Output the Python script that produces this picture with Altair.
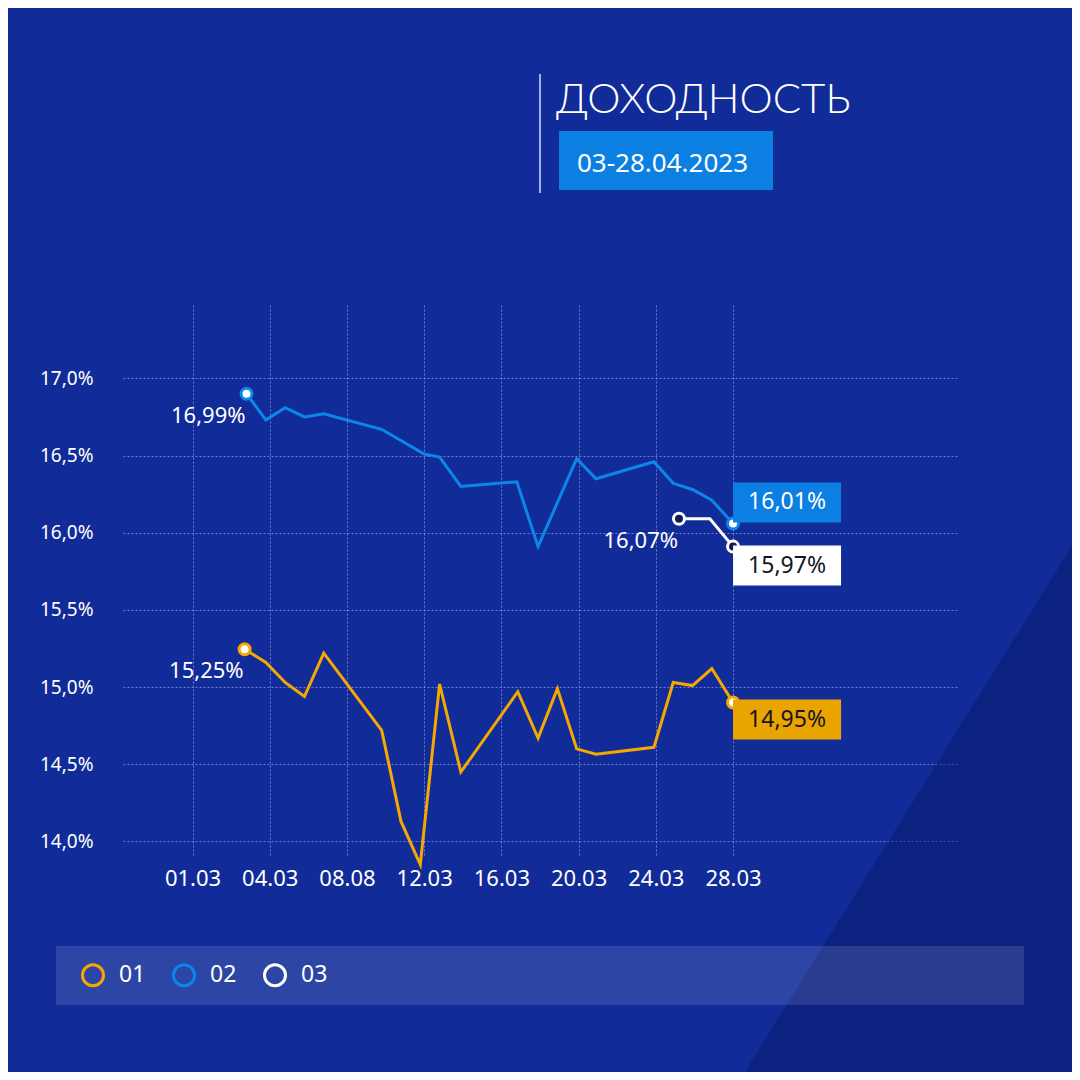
import altair as alt
import pandas as pd

FONT = "Noto Sans"

# ---- data ----
x_ticks = [0, 4, 8, 12, 16, 20, 24, 28]
x_labels = ["01.03", "04.03", "08.08", "12.03", "16.03", "20.03", "24.03", "28.03"]
y_ticks = [14.0, 14.5, 15.0, 15.5, 16.0, 16.5, 17.0]

series_names = ["01", "02", "03"]

orange_x = [2.7, 3.8, 4.8, 5.8, 6.8, 9.8, 10.8, 11.8, 12.8, 13.9, 16.85, 17.9, 18.9, 19.9, 20.9, 23.9, 24.9, 25.9, 26.9, 28.0]
orange_y = [15.245, 15.16, 15.03, 14.94, 15.22, 14.72, 14.13, 13.85, 15.02, 14.45, 14.97, 14.67, 14.99, 14.60, 14.565, 14.61, 15.03, 15.01, 15.12, 14.90]

blue_x = [2.8, 3.8, 4.8, 5.8, 6.8, 9.8, 12.0, 12.8, 13.9, 16.8, 17.9, 19.9, 20.9, 23.9, 24.9, 25.9, 26.9, 28.0]
blue_y = [16.90, 16.73, 16.81, 16.75, 16.77, 16.67, 16.51, 16.49, 16.30, 16.33, 15.91, 16.48, 16.35, 16.46, 16.32, 16.28, 16.21, 16.06]

white_x = [25.2, 26.8, 28.0]
white_y = [16.09, 16.09, 15.91]

start_labels = ["15,25%", "16,99%", "16,07%"]
end_labels = ["14,95%", "16,01%", "15,97%"]

title_text = "ДОХОДНОСТЬ"
period_text = "03-28.04.2023"

# ---- styles ----
ORANGE = "#f5a800"
BLUE = "#0d86ea"
WHITE = "#ffffff"
BG = "#112c98"
colors = [ORANGE, BLUE, WHITE]

rows = []
for name, xs, ys in zip(series_names, [orange_x, blue_x, white_x], [orange_y, blue_y, white_y]):
    for i, (a, b) in enumerate(zip(xs, ys)):
        rows.append({"series": name, "d": a, "v": b, "i": i})
df = pd.DataFrame(rows)

starts = []
ends = []
for name, xs, ys, sl, el in zip(series_names, [orange_x, blue_x, white_x], [orange_y, blue_y, white_y], start_labels, end_labels):
    starts.append({"series": name, "d": xs[0], "v": ys[0], "label": sl})
    ends.append({"series": name, "d": xs[-1], "v": ys[-1], "label": el})
df_start = pd.DataFrame(starts)
df_end = pd.DataFrame(ends)
df_pts = pd.concat([df_start, df_end])

label_js = "[" + ",".join("'%s'" % s for s in x_labels) + "]"

X = alt.X(
    "d:Q",
    scale=alt.Scale(domain=[-3.6, 39.6], nice=False, zero=False),
    axis=alt.Axis(
        values=x_ticks, labelExpr=label_js + "[round(datum.value/4)]", title=None,
        domain=False, ticks=False, grid=True, gridColor="#a8b8ee", gridDash=[2, 2],
        gridOpacity=0.6, gridWidth=1, labelColor="white", labelFontSize=22, labelFont=FONT,
        labelPadding=12, labelFlush=False, labelOverlap=False,
    ),
)
Y = alt.Y(
    "v:Q",
    scale=alt.Scale(domain=[13.906, 17.475], nice=False, zero=False),
    axis=alt.Axis(
        values=y_ticks, labelExpr="replace(format(datum.value, '.1f'), '.', ',') + '%'", title=None,
        domain=False, ticks=False, grid=True, gridColor="#a8b8ee", gridDash=[2, 2],
        gridOpacity=0.6, gridWidth=1, labelColor="white", labelFontSize=19, labelFont=FONT,
        labelPadding=30,
    ),
)
color_scale = alt.Scale(domain=series_names, range=colors)
COLOR = alt.Color(
    "series:N",
    scale=color_scale,
    legend=alt.Legend(
        orient="none", legendX=-42, legendY=658, direction="horizontal", title=None,
        symbolType="circle", symbolSize=441, symbolStrokeWidth=3, symbolFillColor="transparent",
        labelColor="white", labelFontSize=23, labelFont=FONT, labelOffset=14,
        columnPadding=21, padding=0,
    ),
)
STROKE = alt.Stroke("series:N", scale=color_scale, legend=None)

lines = alt.Chart(df).mark_line(strokeWidth=3, strokeJoin="miter").encode(
    x=X, y=Y, color=COLOR, order="i:Q"
)

points_light = alt.Chart(df_pts).transform_filter(alt.datum.series != "03").mark_point(
    filled=False, shape="circle", size=121, strokeWidth=3, opacity=1, fill="white", fillOpacity=1
).encode(x=X, y=Y, stroke=STROKE)
points_dark = alt.Chart(df_pts).transform_filter(alt.datum.series == "03").mark_point(
    filled=False, shape="circle", size=121, strokeWidth=3, opacity=1, fill="#121a55", fillOpacity=1
).encode(x=X, y=Y, stroke=STROKE)

start_text = alt.Chart(df_start).mark_text(
    align="right", baseline="alphabetic", dx=-1, dy=29, fontSize=22, font=FONT, color="white"
).encode(x=X, y=Y, text="label:N")

box_styles = {
    "02": dict(fill="#0b7fe2", text="white", yoff=-21),
    "03": dict(fill="white", text="#15151f", yoff=19),
    "01": dict(fill="#e9a400", text="#15151f", yoff=17),
}
box_layers = []
for name in ["02", "03", "01"]:
    st = box_styles[name]
    sub = df_end[df_end["series"] == name]
    box_layers.append(
        alt.Chart(sub).mark_rect(width=108, height=40, xOffset=54, yOffset=st["yoff"], color=st["fill"]).encode(x=X, y=Y)
    )
    box_layers.append(
        alt.Chart(sub).mark_text(
            xOffset=54, yOffset=st["yoff"], align="center", baseline="middle",
            fontSize=23, font=FONT, color=st["text"]
        ).encode(x=X, y=Y, text="label:N")
    )

one = alt.Data(values=[{"k": 1}])
shade = alt.Chart(one).mark_point(
    shape="M 0.707 -1.139 L 0.707 1.201 L -0.748 1.201 Z", filled=True,
    size=298116, color="#06135e", opacity=0.4, strokeWidth=0
).encode(x=alt.value(787), y=alt.value(502))
title_mark = alt.Chart(one).mark_text(
    text=title_text, align="left", baseline="alphabetic", fontSize=42, font="Lato",
    fontWeight=300, color="white"
).encode(x=alt.value(433), y=alt.value(-192.5))
vline = alt.Chart(one).mark_rule(color="#9fb0e6", strokeWidth=2).encode(
    x=alt.value(417), y=alt.value(-231), y2=alt.value(-112)
)
badge = alt.Chart(one).mark_rect(color="#0b7fe2").encode(
    x=alt.value(436), x2=alt.value(650), y=alt.value(-174), y2=alt.value(-115)
)
badge_text = alt.Chart(one).mark_text(
    text=period_text, align="left", baseline="alphabetic", fontSize=26, font=FONT, color="white"
).encode(x=alt.value(454), y=alt.value(-133))
legend_box = alt.Chart(one).mark_rect(color="white", opacity=0.12).encode(
    x=alt.value(-67), x2=alt.value(901), y=alt.value(641), y2=alt.value(700)
)

chart = alt.layer(
    shade, legend_box, vline, badge, badge_text, title_mark,
    lines, points_light, points_dark, start_text, *box_layers
).properties(
    width=834, height=551,
    padding={"left": 115, "top": 297, "right": 115, "bottom": 216},
    autosize=alt.AutoSizeParams(type="none"),
    background=BG,
).configure_view(stroke=None)

chart.save("out.html", embed_options={"renderer": "svg", "actions": False})
